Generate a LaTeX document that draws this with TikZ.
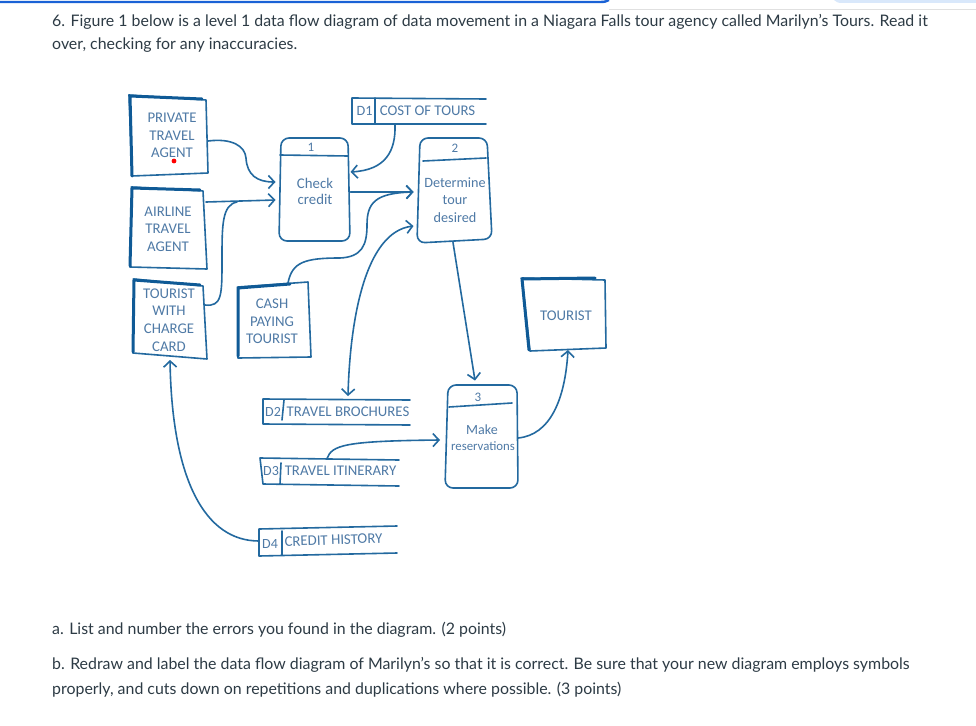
\documentclass[tikz,border=0pt]{standalone}
\usepackage{fontspec}
\setmainfont{Lato}
\newfontfamily\dgmfont{Carlito}
\usetikzlibrary{arrows.meta,calc}
\definecolor{dline}{HTML}{23699F}
\definecolor{dthick}{HTML}{0F5A96}
\definecolor{dtext}{HTML}{4F7AA6}
\definecolor{qtext}{HTML}{2D3B45}
\definecolor{barblue}{HTML}{1A62D6}
\definecolor{barlight}{HTML}{D9E8FB}
\tikzset{
  qline/.style={anchor=west,inner sep=0pt,text=qtext,font=\fontsize{15.9}{18}\selectfont},
  lbl/.style={inner sep=0pt,align=center,text=dtext,font=\dgmfont\fontsize{14.8}{17.6}\selectfont},
  hook/.style={inner sep=0pt,outer sep=0pt,minimum width=#1},
  edge/.style={line width=1.6pt,draw=dline,line join=round,line cap=round},
  thickedge/.style={line width=3pt,draw=dthick,line cap=round},
  flow/.style={edge,-{Straight Barb[length=6pt,width=13pt,line width=1.6pt]}},
  flowboth/.style={edge,{Straight Barb[length=6pt,width=13pt,line width=1.6pt]}-{Straight Barb[length=6pt,width=13pt,line width=1.6pt]}},
  proc/.style={edge,rounded corners=8pt}
}
\begin{document}
\begin{tikzpicture}[x=1pt,y=-1pt]
\useasboundingbox (0,0) rectangle (976,725);
\fill[white] (0,0) rectangle (976,725);
% page chrome
\fill[barlight] (834,0) -- (976,0) -- (976,3) -- (842,3) .. controls (838,3) and (836,2) .. (834,0) -- cycle;
\draw[black!12,line width=1pt] (609,9.5) -- (976,9.5);
\draw[line width=2.4pt,draw=barblue] (0,2) -- (600,2) .. controls (604,2) and (607,1.5) .. (609,0);
% question text
\node[qline] (q1) at (52,21.5) {6. Figure 1 below is a level 1 data flow diagram of data movement in a Niagara Falls tour agency called Marilyn’s Tours. Read it};
\node[qline] (q2) at (52,45.5) {over, checking for any inaccuracies.};
\node[qline] (qa) at (52,629.5) {a. List and number the errors you found in the diagram. (2 points)};
\node[qline] (qb) at (52,664.5) {b. Redraw and label the data flow diagram of Marilyn’s so that it is correct. Be sure that your new diagram employs symbols};
\node[qline] (qc) at (52,689.5) {properly, and cuts down on repetitions and duplications where possible. (3 points)};

% ---- named anchor boxes
\node[hook=78pt,minimum height=78pt] (pta) at (168,136) {};
\node[hook=76pt,minimum height=80pt] (ata) at (168,228) {};
\node[hook=74pt,minimum height=78pt] (twc) at (170,319) {};
\node[hook=73pt,minimum height=74pt] (cpt) at (274.5,320) {};
\node[hook=71pt,minimum height=103pt] (p1) at (315,189) {};
\node[hook=71pt,minimum height=103pt] (p2) at (454,190) {};
\node[hook=72pt,minimum height=103pt] (p3) at (482,436) {};
\node[hook=84pt,minimum height=72pt] (tou) at (564,314) {};
\node[hook=134pt,minimum height=26pt] (d1) at (419,111) {};
\node[hook=147pt,minimum height=25pt] (d2) at (336.5,412) {};
\node[hook=139pt,minimum height=27pt] (d3) at (330,472) {};
\node[hook=138pt,minimum height=27pt] (d4) at (328,541) {};

% ---- external entities
\draw[edge,fill=white] (129,95) -- (206,100) -- (208,173) -- (132,176) -- cycle;
\draw[thickedge] (132,176) -- (130,96) -- (202,99);
\draw[edge,fill=white] (132,187) -- (203,191) -- (207,269) -- (130,267) -- cycle;
\draw[thickedge] (130,266) -- (132,188) -- (200,190);
\draw[edge,fill=white] (134,279) -- (203,286) -- (207,359) -- (133,353) -- cycle;
\draw[thickedge] (133,352) -- (134,280) -- (200,285);
\draw[edge,fill=white] (238,287) -- (308,282) -- (311,357) -- (238,358) -- cycle;
\draw[thickedge] (238,356) -- (238,288) -- (290,284);
\draw[edge,fill=white] (522,278) -- (605,280) -- (606,348) -- (530,351) -- cycle;
\draw[thickedge] (529,350) -- (522,279) -- (595,278);

% ---- processes
\draw[proc] (281,138) -- (348,138) -- (350,241) -- (279,241) -- cycle;
\draw[edge] (280,155) -- (348,156);
\draw[proc] (420,138) -- (487,138) -- (492,239) -- (417,243) -- cycle;
\draw[edge] (423,161) -- (486,158);
\draw[proc] (448,385) -- (517,385) -- (518,488) -- (445,488) -- cycle;
\draw[edge] (449,407) -- (512,403);

% ---- data stores
\draw[edge] (486,99) -- (352,98) -- (352,124) -- (486,124);
\draw[edge] (375,98) -- (375,123);
\draw[edge] (410,400) -- (263,399) -- (263,424) -- (410,425);
\draw[edge] (284,400) -- (282,420);
\draw[edge] (399,460) -- (260,458) -- (263,484) -- (399,486);
\draw[edge] (281,463) -- (280,484);
\draw[edge] (397,526) -- (259,529) -- (259,556) -- (397,553);
\draw[edge] (282,531) -- (282,555);

% ---- labels
\node[lbl] (lpta) at (172,135.5) {PRIVATE\\TRAVEL\\AGENT};
\node[lbl] (lata) at (168,229) {AIRLINE\\TRAVEL\\AGENT};
\node[lbl] (ltwc) at (169,320) {TOURIST\\WITH\\CHARGE\\CARD};
\node[lbl] (lcpt) at (272,321.5) {CASH\\PAYING\\TOURIST};
\node[lbl] (ltou) at (566,315.5) {TOURIST};
\node[lbl,font=\dgmfont\fontsize{14.8}{16}\selectfont] (lp1) at (315,191) {Check\\credit};
\node[lbl,font=\dgmfont\fontsize{14.2}{17.6}\selectfont] (lp2) at (455,200) {Determine\\tour\\desired};
\node[lbl,font=\dgmfont\fontsize{13}{16}\selectfont] (lp1n) at (311,147) {1};
\node[lbl,font=\dgmfont\fontsize{13}{14}\selectfont] (lp2n) at (455,148) {2};
\node[lbl,font=\dgmfont\fontsize{13}{14}\selectfont] (lp3n) at (478,397) {3};
\node[lbl,font=\dgmfont\fontsize{14}{14}\selectfont] (lp3a) at (482,430) {Make};
\node[lbl,font=\dgmfont\fontsize{12.8}{14}\selectfont] (lp3b) at (483,446) {reservations};
\node[lbl,font=\dgmfont\fontsize{14.2}{14}\selectfont] (ld1a) at (364.5,111) {D1};
\node[lbl] (ld1b) at (427.5,111) {COST OF TOURS};
\node[lbl,font=\dgmfont\fontsize{14}{14}\selectfont] (ld2a) at (273,412) {D2};
\node[lbl] (ld2b) at (348,412) {TRAVEL BROCHURES};
\node[lbl] (ld3b) at (340.5,471) {TRAVEL ITINERARY};
\node[lbl,font=\dgmfont\fontsize{14}{14}\selectfont] (ld3a) at (271,471) {D3};
\node[lbl,font=\dgmfont\fontsize{14}{14}\selectfont] (ld4a) at (270,544) {D4};
\node[lbl,rotate=2] (ld4b) at (333.5,540) {CREDIT HISTORY};

% ---- connectors
\draw[flow] ($(pta.east)+(1,5)$) .. controls (232,138) and (245,146) .. (246,158)
   .. controls (247,175) and (257,182) .. ($(p1.west)+(-4,-7)$);
\draw[flow] ($(ata.east)+(0,-26)$) -- ($(p1.west)+(-4,11)$);
\draw[edge] ($(twc.east)+(-2,-14)$) .. controls (222,307) and (222,295) .. (222,260)
   .. controls (222,225) and (222,205) .. (237,202);
\draw[flow] ($(cpt.north)+(13.5,0)$) .. controls (292,262) and (305,258) .. (340,258)
   .. controls (362,257) and (367,245) .. (367,225)
   .. controls (367,203) and (375,193) .. ($(p2.west)+(-5,2)$);
\draw[flow] ($(p1.east)+(0,3)$) -- ($(p2.west)+(-5,2)$);
\draw[flow] ($(d1.south)+(-24,0)$) .. controls (396,152) and (385,170) .. ($(p1.east)+(0,-17)$);
\draw[flowboth] ($(d2.north)+(11.5,-3.5)$) .. controls (350,320) and (365,232) .. ($(p2.west)+(-5,36)$);
\draw[flow] ($(p2.south)+(-1,1)$) -- ($(p3.north)+(-7,-4)$);
\draw[flow] ($(p3.east)+(0,2)$) .. controls (550,435) and (565,400) .. ($(tou.south)+(4,0)$);
\draw[flow] ($(d3.north)+(-3,0)$) .. controls (332,445) and (345,441) .. ($(p3.west)+(-6,4)$);
\draw[flow] (d4.west) .. controls (205,541) and (172,480) .. ($(twc.south)+(0,2)$);

\fill[red] (174,161) circle (2.4pt);
\end{tikzpicture}
\end{document}
